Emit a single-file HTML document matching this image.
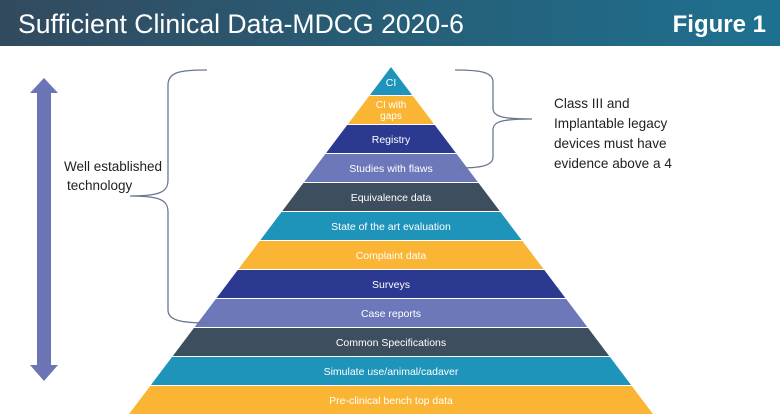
<!DOCTYPE html>
<html><head><style>
html,body{margin:0;padding:0;width:780px;height:414px;overflow:hidden;background:#fff}
svg{display:block}
text{font-family:"Liberation Sans",sans-serif}
</style></head><body>
<svg width="780" height="414" viewBox="0 0 780 414" xmlns="http://www.w3.org/2000/svg">
<defs><linearGradient id="hg" x1="0" x2="1" y1="0" y2="0"><stop offset="0" stop-color="#324a5e"/><stop offset="1" stop-color="#1d7190"/></linearGradient></defs>
<rect x="0" y="0" width="780" height="46" fill="url(#hg)"/>
<text x="18" y="33" font-size="26.6" fill="#fff">Sufficient Clinical Data-MDCG 2020-6</text>
<text x="766" y="32" font-size="24" font-weight="bold" fill="#fff" text-anchor="end">Figure 1</text>

<polygon points="44,78 58,93 51,93 51,365 58,365 44,381 30,365 37,365 37,93 30,93" fill="#6b74b5"/>

<polygon points="391,67 412.1,95 369.9,95" fill="#1f94bb"/>
<polygon points="369.1,96 412.9,96 434,124 348,124" fill="#f9b533"/>
<polygon points="347.2,125 434.8,125 455.9,153 326.1,153" fill="#2b3990"/>
<polygon points="325.3,154 456.7,154 477.8,182 304.2,182" fill="#6d78bb"/>
<polygon points="303.4,183 478.6,183 499.7,211 282.3,211" fill="#3d4f5f"/>
<polygon points="281.5,212 500.5,212 521.6,240 260.4,240" fill="#1f94bb"/>
<polygon points="259.6,241 522.4,241 543.5,269 238.5,269" fill="#f9b533"/>
<polygon points="237.7,270 544.3,270 565.4,298 216.6,298" fill="#2b3990"/>
<polygon points="215.8,299 566.2,299 587.3,327 194.7,327" fill="#6d78bb"/>
<polygon points="193.9,328 588.1,328 609.2,356 172.8,356" fill="#3d4f5f"/>
<polygon points="172,357 610,357 631.1,385 150.9,385" fill="#1f94bb"/>
<polygon points="150.2,386 631.8,386 653,414 129,414" fill="#f9b533"/>

<g font-size="10.5" fill="#fff" text-anchor="middle">
<text x="391" y="86">CI</text>
<text x="391" y="108" font-size="10">CI with</text>
<text x="391" y="119" font-size="10">gaps</text>
<text x="391" y="143">Registry</text>
<text x="391" y="172">Studies with flaws</text>
<text x="391" y="201">Equivalence data</text>
<text x="391" y="230">State of the art evaluation</text>
<text x="391" y="259">Complaint data</text>
<text x="391" y="288">Surveys</text>
<text x="391" y="317">Case reports</text>
<text x="391" y="346">Common Specifications</text>
<text x="391" y="375">Simulate use/animal/cadaver</text>
<text x="391" y="404">Pre-clinical bench top data</text>
</g>

<path d="M207,70 C180,70 168,72 168,85 L168,180 C168,192 160,196 130,196 C160,196 168,200 168,212 L168,310 C168,320 180,323 208,323" fill="none" stroke="#6a7890" stroke-width="1.3"/>
<text x="64" y="171" font-size="13.5" fill="#222">Well established</text>
<text x="67" y="190" font-size="13.5" fill="#222">technology</text>

<path d="M455,70 C480,70 493,72 493,82 L493,108 C493,116 500,119 532,119 C500,119 493,122 493,130 L493,157 C493,166 480,168 458,168" fill="none" stroke="#6a7890" stroke-width="1.3"/>
<g font-size="13.6" fill="#222">
<text x="554" y="108">Class III and</text>
<text x="554" y="128">Implantable legacy</text>
<text x="554" y="148">devices must have</text>
<text x="554" y="168">evidence above a 4</text>
</g>
</svg>
</body></html>
